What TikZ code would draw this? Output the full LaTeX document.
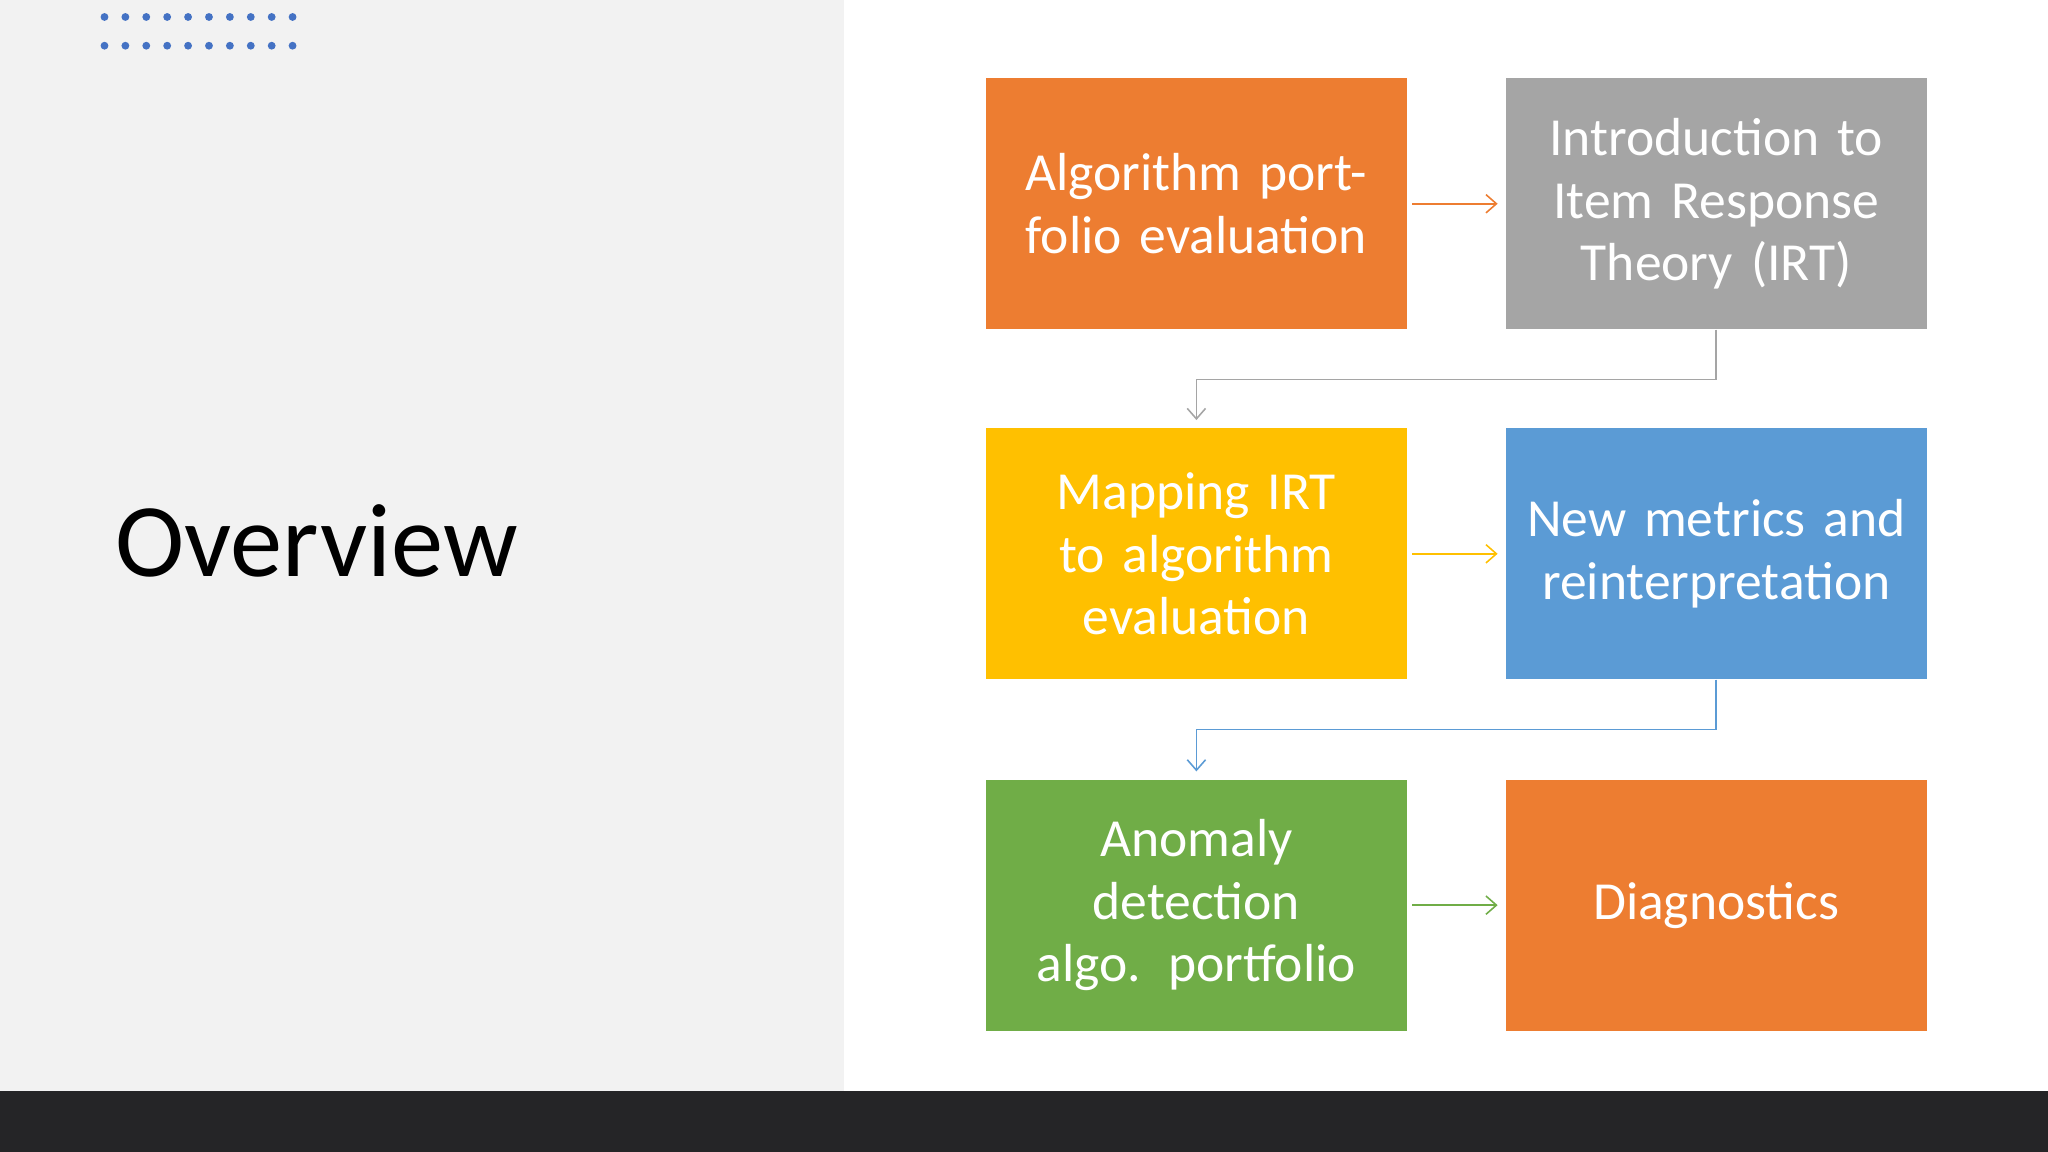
\documentclass[tikz,border=0pt]{standalone}
\usepackage{fontspec}
\setmainfont{Carlito}
\usetikzlibrary{arrows.meta}
\definecolor{cor}{HTML}{ED7D31}
\definecolor{cgr}{HTML}{A5A5A5}
\definecolor{cye}{HTML}{FFC000}
\definecolor{cbl}{HTML}{5B9BD5}
\definecolor{cgn}{HTML}{70AD47}
\definecolor{cleft}{HTML}{F2F2F2}
\definecolor{cbar}{HTML}{252527}
\definecolor{cdot}{HTML}{4472C4}
\tikzset{
 box/.style={fill=#1,draw=none,minimum width=161pt,minimum height=96pt,inner sep=0pt,text width=155pt,align=center,text=white,font=\fontsize{20.5pt}{24pt}\selectfont},
 conn/.style={draw=#1,line width=0.6pt,-{Straight Barb[length=4pt,width=7pt]}}
}
\begin{document}
\begin{tikzpicture}[x=0.5pt,y=-0.5pt]
\fill[white] (0,0) rectangle (1568,882);
\fill[cleft] (0,0) rectangle (646,835);
\fill[cbar] (0,835) rectangle (1568,882);
\foreach \i in {0,...,9}{
 \fill[cdot] (80+16*\i,13) circle (3);
 \fill[cdot] (80+16*\i,35) circle (3);
}
\node[anchor=west,font=\fontsize{40pt}{48pt}\selectfont,inner sep=0pt] (title) at (88,414) {Overview};
\node[box=cor] (a) at (916,156) {Algorithm portfolio evaluation};
\node[box=cgr] (b) at (1314,156) {Introduction to Item Response Theory (IRT)};
\node[box=cye] (c) at (916,424) {Mapping IRT to algorithm evaluation};
\node[box=cbl] (d) at (1314,424) {New metrics and reinterpretation};
\node[box=cgn] (e) at (916,693) {Anomaly detection algo. portfolio};
\node[box=cor] (f) at (1314,693) {Diagnostics};
\draw[conn=cor] ([xshift=2pt]a.east) -- ([xshift=-3pt]b.west);
\draw[conn=cye] ([xshift=2pt]c.east) -- ([xshift=-3pt]d.west);
\draw[conn=cgn] ([xshift=2pt]e.east) -- ([xshift=-3pt]f.west);
\draw[conn=cgr] (b.south) -- ++(0,38) -| ([yshift=3pt]c.north);
\draw[conn=cbl] (d.south) -- ++(0,38) -| ([yshift=3pt]e.north);
\end{tikzpicture}
\end{document}
